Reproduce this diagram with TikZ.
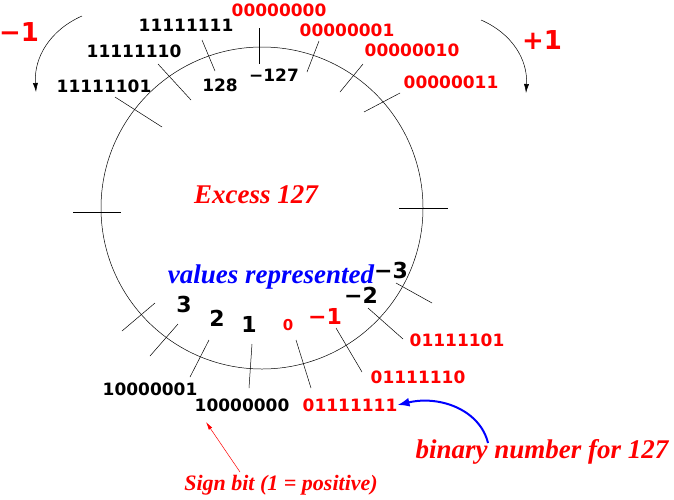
\documentclass[tikz,border=0pt]{standalone}
\usepackage{fontspec}
\setmainfont{Liberation Serif}
\setsansfont{DejaVu Sans}
\usetikzlibrary{arrows.meta}
\begin{document}
\begin{tikzpicture}[x=1pt,y=-1pt,
  bin/.style={font=\sffamily\bfseries\fontsize{17}{17}\selectfont,inner sep=0},
  big/.style={font=\sffamily\bfseries\fontsize{26}{26}\selectfont,inner sep=0},
  num/.style={font=\sffamily\bfseries\fontsize{22}{22}\selectfont,inner sep=0},
  ital/.style={font=\bfseries\itshape\fontsize{27}{27}\selectfont,inner sep=0},
  tick/.style={line width=0.5pt}]
\useasboundingbox (0,0) rectangle (674,499);
\draw[line width=0.5pt] (262,208) circle (161);
% ticks
\draw[tick] (259,28)--(259,64);
\draw[tick] (202,40)--(215,71);
\draw[tick] (158,64)--(191,100);
\draw[tick] (115,97)--(162,127);
\draw[tick] (319,41)--(307,72);
\draw[tick] (363,64)--(340,92);
\draw[tick] (400,93)--(364,112);
\draw[tick] (73,212)--(121,212);
\draw[tick] (399,208)--(448,208);
\draw[tick] (396,283)--(432,303);
\draw[tick] (368,308)--(403,339);
\draw[tick] (336,328)--(362,372);
\draw[tick] (296,340)--(311,388);
\draw[tick] (252,344)--(249,388);
\draw[tick] (209,340)--(190,377);
\draw[tick] (178,324)--(150,356);
\draw[tick] (122,331)--(155,303);
% top labels
\node[bin,text=red] (b0) at (279,10) {00000000};
\node[bin] (bm1) at (186,25) {11111111};
\node[bin,text=red] (b1) at (347,30) {00000001};
\node[bin] (bm2) at (134,51) {11111110};
\node[bin,text=red] (b2) at (412,50) {00000010};
\node[bin] (bm3) at (104,86) {11111101};
\node[bin,text=red] (b3) at (451,82) {00000011};
\node[bin] (v128) at (220,85) {128};
\node[bin] (vm127) at (274,75) {−127};
\node[big,text=red] (minus) at (19,32) {−1};
\node[big,text=red] (plus) at (542,40) {+1};
\coordinate (la0) at (82,16);
\coordinate (la1) at (36,92);
\coordinate (ra0) at (481,20);
\coordinate (ra1) at (526,93);
\draw[line width=0.5pt,-{Latex[length=9pt,width=5pt]}] (la0) to[bend right=35] (la1);
\draw[line width=0.5pt,-{Latex[length=9pt,width=5pt]}] (ra0) to[bend left=35] (ra1);
\node[ital,text=red] (ex) at (256,195) {Excess 127};
\node[ital,text=blue] (vr) at (271,277) {values represented};
% bottom values
\node[num] (n3) at (391,270) {−3};
\node[num] (n2) at (361,295) {−2};
\node[num,text=red] (n1) at (325,316) {−1};
\node[bin,text=red,font=\sffamily\bfseries\fontsize{15}{15}\selectfont] (n0) at (288,325) {0};
\node[num] (p1) at (249,324) {1};
\node[num] (p2) at (217,318) {2};
\node[num] (p3) at (184,304) {3};
\node[bin,text=red] (c1) at (457,340) {01111101};
\node[bin,text=red] (c2) at (418,377) {01111110};
\node[bin,text=red] (c3) at (350,405) {01111111};
\node[bin] (d0) at (242,405) {10000000};
\node[bin] (d1) at (150,389) {10000001};
\node[ital,text=red] (bn) at (542,452) {binary number for 127};
\node[ital,text=red,font=\bfseries\itshape\fontsize{22}{22}\selectfont] (sb) at (281,485) {Sign bit (1 = positive)};
\coordinate (sbt) at (240,472);
\draw[blue,line width=2pt,-{Latex[length=12pt,width=9pt]}] (488,443) .. controls (480,410) and (440,395) .. (c3.east);
\draw[red,line width=0.5pt,-{Latex[length=8pt,width=4pt]}] (sbt) -- (206,422);
\end{tikzpicture}
\end{document}
